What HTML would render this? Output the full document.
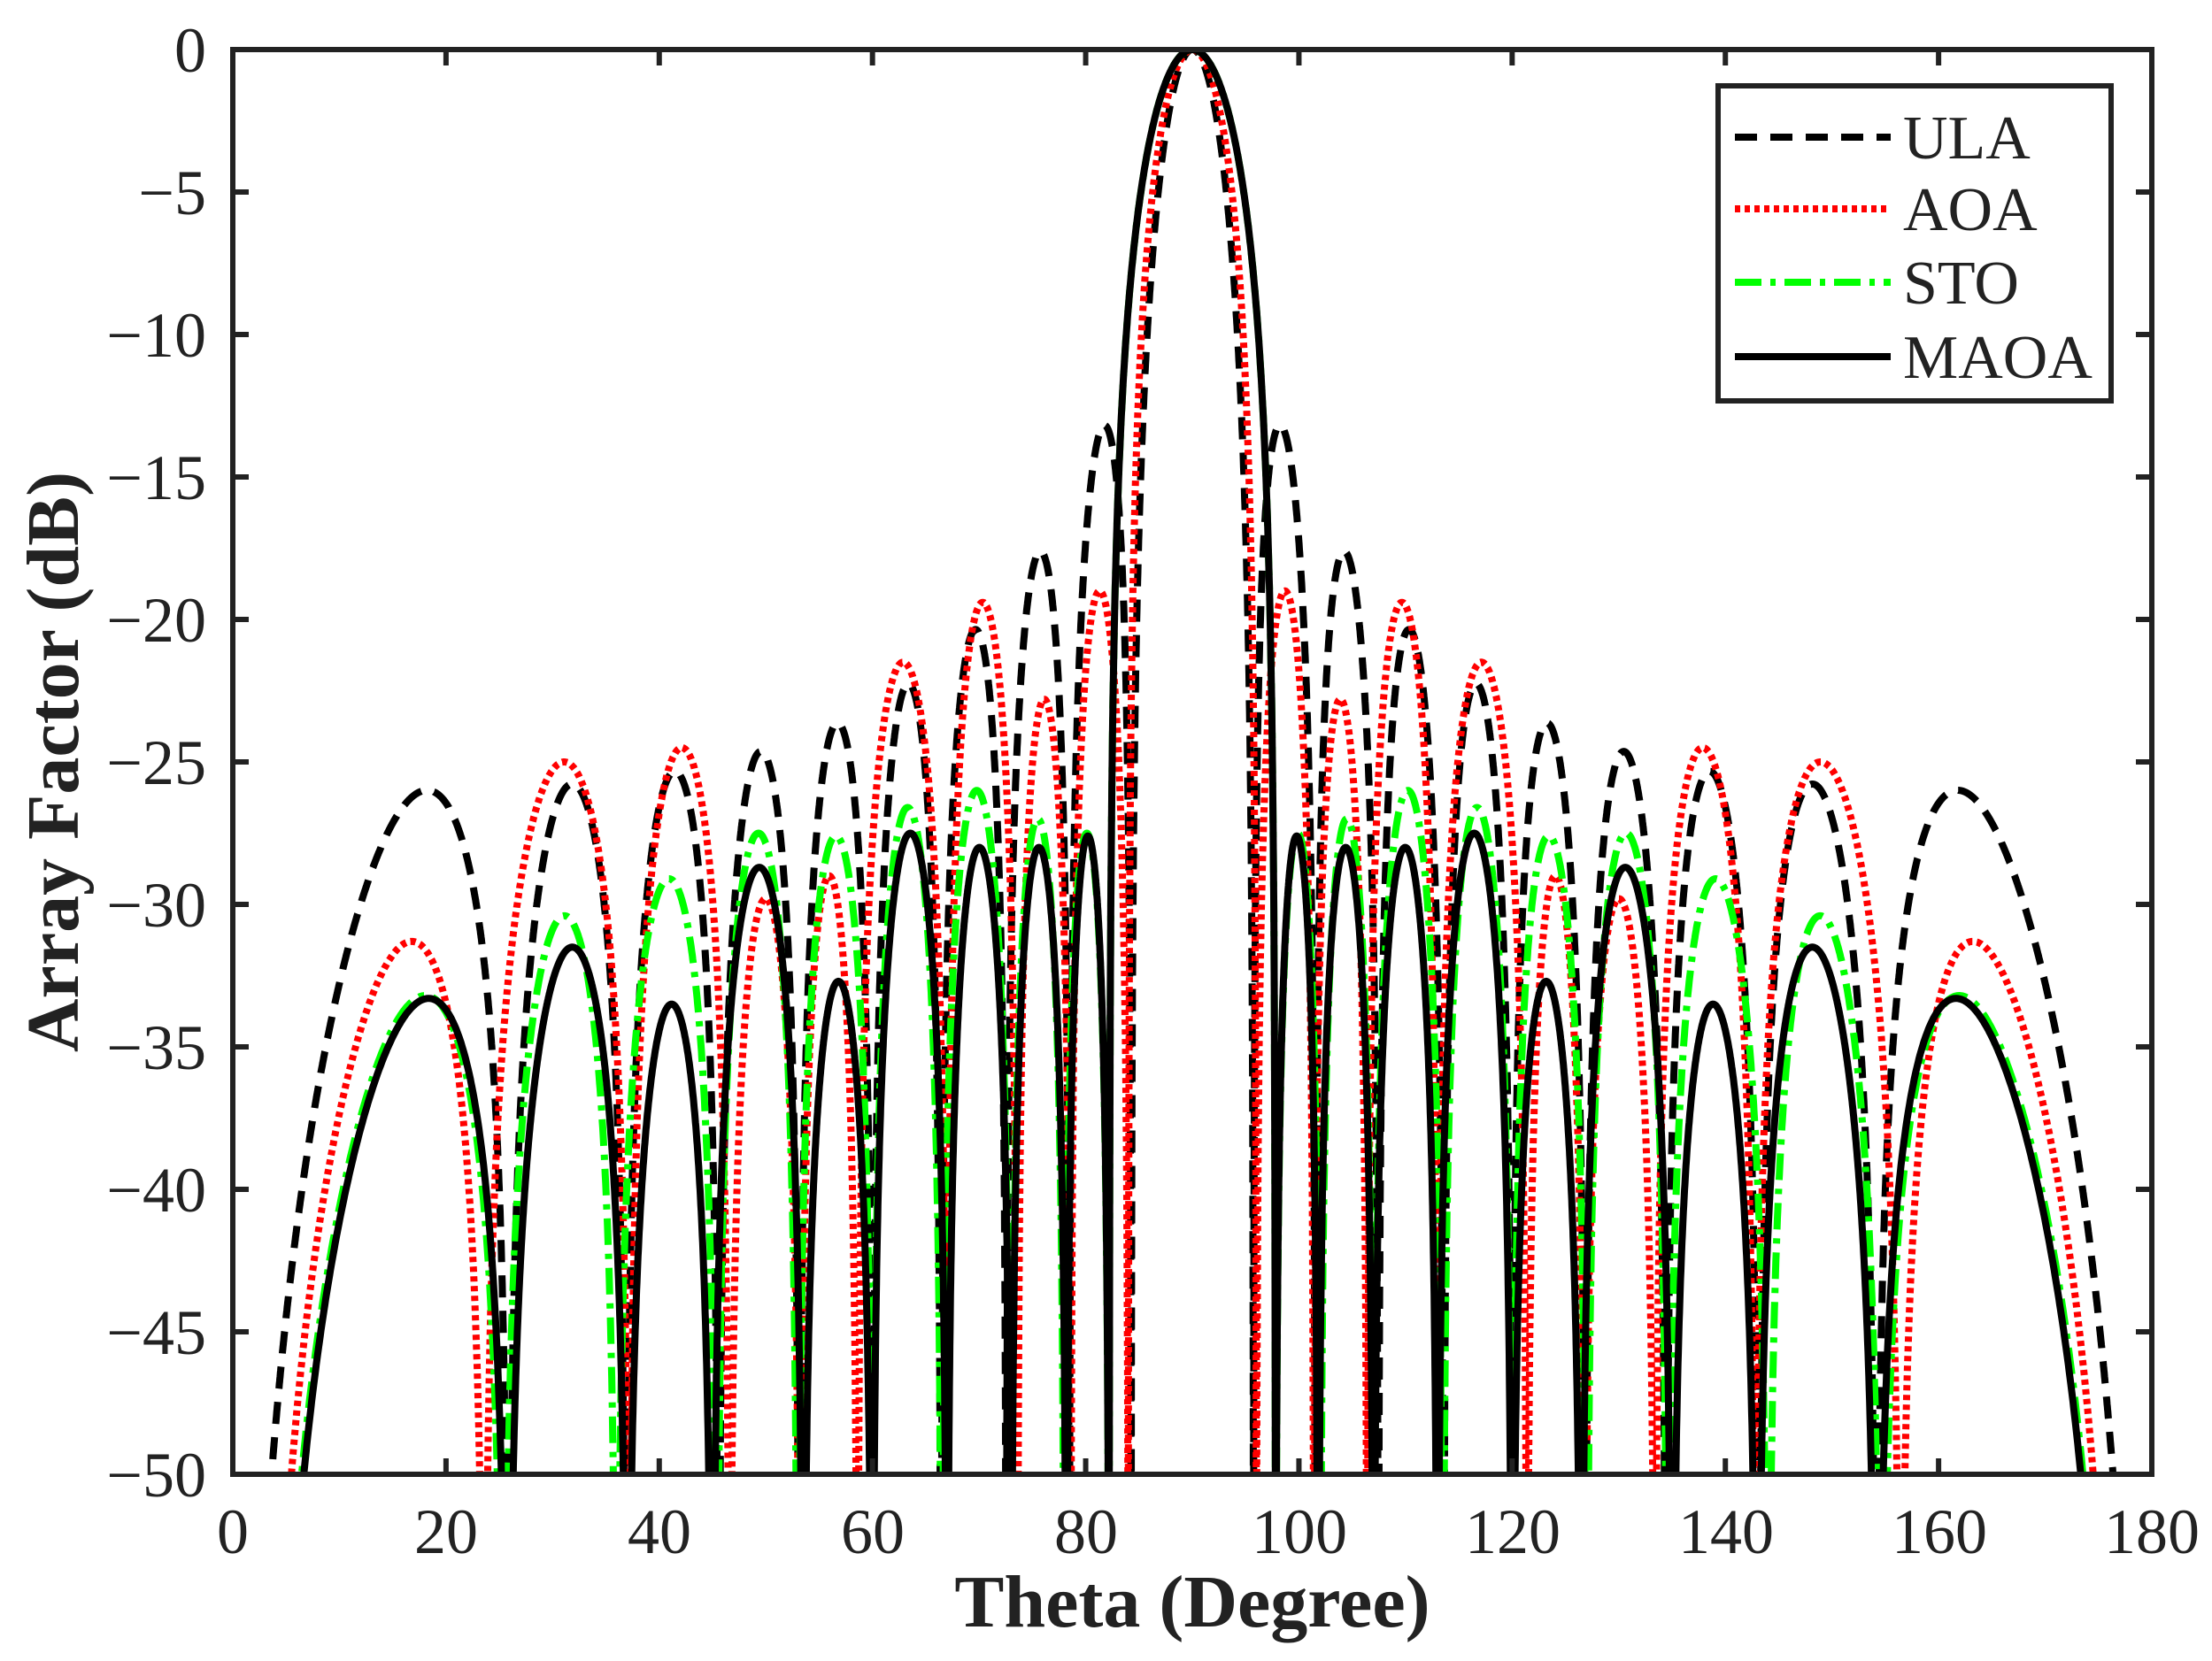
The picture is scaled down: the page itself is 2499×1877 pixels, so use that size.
<!DOCTYPE html>
<html><head><meta charset="utf-8"><style>
html,body{margin:0;padding:0;background:#fff;}
svg{display:block;}
text{font-family:"Liberation Serif",serif;}
</style></head><body>
<svg id="s" width="2499" height="1877" viewBox="0 0 2499 1877" xmlns="http://www.w3.org/2000/svg">
<defs><clipPath id="c"><rect x="263" y="56" width="2168" height="1610"/></clipPath></defs>
<rect width="2499" height="1877" fill="#fff"/>
<g id="curves" clip-path="url(#c)" fill="none" stroke-width="8" stroke-linejoin="round"></g>
<g id="axes" stroke="#222" stroke-width="6" fill="none"></g>
<g font-size="72" fill="#222" text-anchor="end">
<text x="233" y="81">0</text>
<text x="233" y="242">−5</text>
<text x="233" y="403">−10</text>
<text x="233" y="564">−15</text>
<text x="233" y="725">−20</text>
<text x="233" y="886">−25</text>
<text x="233" y="1047">−30</text>
<text x="233" y="1208">−35</text>
<text x="233" y="1369">−40</text>
<text x="233" y="1530">−45</text>
<text x="233" y="1691">−50</text>
</g>
<g font-size="72" fill="#222" text-anchor="middle">
<text x="263" y="1755">0</text>
<text x="504" y="1755">20</text>
<text x="745" y="1755">40</text>
<text x="986" y="1755">60</text>
<text x="1227" y="1755">80</text>
<text x="1468" y="1755">100</text>
<text x="1709" y="1755">120</text>
<text x="1950" y="1755">140</text>
<text x="2191" y="1755">160</text>
<text x="2431" y="1755">180</text>
</g>
<text x="1347" y="1838" font-size="84" font-weight="bold" fill="#222" text-anchor="middle">Theta (Degree)</text>
<text transform="translate(88,861) rotate(-90)" font-size="84" font-weight="bold" fill="#222" text-anchor="middle">Array Factor (dB)</text>
<rect x="1941" y="97" width="444" height="356" fill="#fff" stroke="#222" stroke-width="6"/>
<line x1="1960" y1="155" x2="2136" y2="155" stroke="#000" stroke-width="8" stroke-dasharray="25 15"/>
<line x1="1960" y1="236" x2="2136" y2="236" stroke="#f00" stroke-width="8" stroke-dasharray="6 5"/>
<line x1="1960" y1="319" x2="2136" y2="319" stroke="#0f0" stroke-width="8" stroke-dasharray="30 10 6 10"/>
<line x1="1960" y1="403" x2="2136" y2="403" stroke="#000" stroke-width="8"/>
<g font-size="70" fill="#222">
<text x="2150" y="179">ULA</text>
<text x="2150" y="260">AOA</text>
<text x="2150" y="343">STO</text>
<text x="2150" y="427">MAOA</text>
</g>
</svg>
<script>
var L=263,R=2431,T=56,B=1666;
function X(t){return L+(R-L)*t/180;}
function Y(d){return T+(B-T)*(-d)/50;}
var ns="http://www.w3.org/2000/svg";
function addPath(pts,color,dash){
  var d="";
  for(var i=0;i<pts.length;i++){var p=pts[i];d+=(i?"L":"M")+p[0].toFixed(1)+" "+p[1].toFixed(1);}
  var e=document.createElementNS(ns,"path");e.setAttribute("d",d);e.setAttribute("stroke",color);
  if(dash)e.setAttribute("stroke-dasharray",dash);
  document.getElementById("curves").appendChild(e);
}
var p=[];
for(var t=0.05;t<180;t+=0.02){var psi=Math.PI*Math.cos(t*Math.PI/180);
 var v=Math.abs(Math.sin(10*psi)/(20*Math.sin(psi/2)));if(Math.abs(Math.sin(psi/2))<1e-9)v=1;
 var db=20*Math.log10(Math.max(v,1e-6));if(db<-52)db=-52;p.push([X(t),Y(db)]);}
addPath(p,"#000","25 15");
function C(t){return Math.cos(t*Math.PI/180);}
function lobes(nulls,peaks){
  var pts=[];
  function seg(a,b,pk){var ua=C(a),ub=C(b);for(var k=0;k<=300;k++){var t=a+(b-a)*k/300;var s=Math.sin(Math.PI*(C(t)-ua)/(ub-ua));
    var db=pk+20*Math.log10(Math.max(Math.abs(s),1e-6));if(db<-52)db=-52;pts.push([X(t),Y(db)]);}}
  for(var i=0;i<peaks.length;i++)seg(nulls[i],nulls[i+1],peaks[i]);
  var m=nulls[nulls.length-1];seg(m,180-m,0);
  for(var i=peaks.length-1;i>=0;i--)seg(180-nulls[i+1],180-nulls[i],peaks[i]);
  return pts;
}
addPath(lobes([3.2,23.6,37.2,46.6,53.2,58.6,67,73.6,78.6,84],[-31.3,-25,-24.5,-29.8,-29,-21.5,-19.4,-22.8,-19]),"#f00","6 5");
addPath(lobes([3.6,25.4,36,45.4,53,60,66.5,73,78,82.2],[-33.2,-30.4,-29.1,-27.5,-27.6,-26.6,-26,-27,-27.5]),"#0f0","30 10 6 10");
addPath(lobes([3.8,25.8,37,45,53.5,60,67,73,78.2,82.2],[-33.3,-31.5,-33.5,-28.7,-32.7,-27.5,-28,-28,-27.6]),"#000",null);
var a=document.getElementById("axes");
function ln(x1,y1,x2,y2){var e=document.createElementNS(ns,"line");e.setAttribute("x1",x1);e.setAttribute("y1",y1);e.setAttribute("x2",x2);e.setAttribute("y2",y2);a.appendChild(e);}
var r=document.createElementNS(ns,"rect");r.setAttribute("x",L);r.setAttribute("y",T);r.setAttribute("width",R-L);r.setAttribute("height",B-T);a.appendChild(r);
for(var i=0;i<=9;i++){var x=X(i*20);ln(x,B,x,B-18);ln(x,T,x,T+18);}
for(var i=0;i<=10;i++){var y=Y(-5*i);ln(L,y,L+18,y);ln(R,y,R-18,y);}
</script>
</body></html>
